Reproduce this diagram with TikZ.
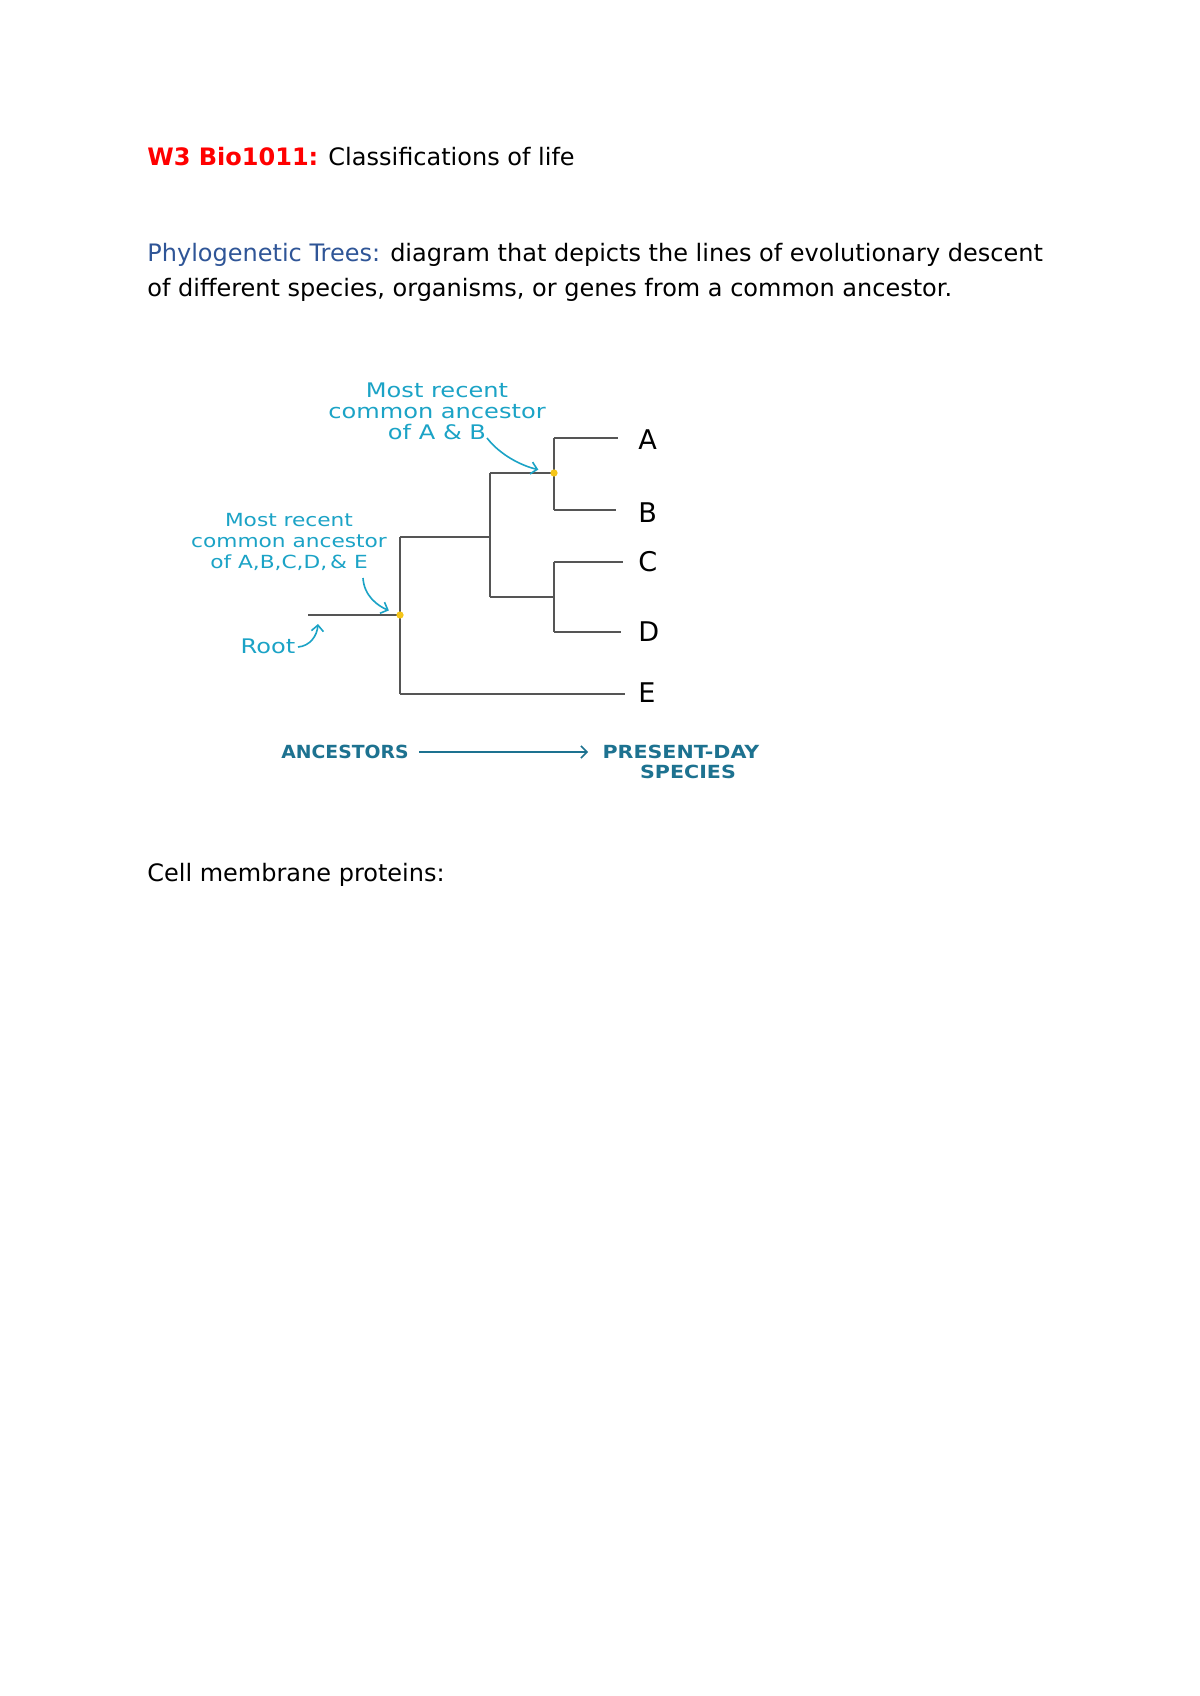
\documentclass[tikz,border=0pt]{standalone}
\usepackage{fontspec}
\setmainfont{DejaVu Sans}
\newfontfamily\hand[FakeStretch=1.2]{DejaVu Sans}
\newfontfamily\handcaps[FakeStretch=1.14]{DejaVu Sans}
\newfontfamily\handcapsn[FakeStretch=1.04]{DejaVu Sans}
\usetikzlibrary{arrows.meta}
\definecolor{titlered}{HTML}{FF0000}
\definecolor{headblue}{HTML}{2F5597}
\definecolor{handcyan}{HTML}{1BA3C6}
\definecolor{handteal}{HTML}{1D7290}
\definecolor{treegray}{HTML}{555555}
\definecolor{dotyellow}{HTML}{F5C518}
\begin{document}
\begin{tikzpicture}[x=0.0175cm,y=-0.0175cm,
  body/.style={anchor=base west,inner sep=0pt,font=\fontsize{11.95}{14}\selectfont},
  branch/.style={draw=treegray,line width=1.1pt},
  leaf/.style={anchor=west,inner sep=0pt,font=\fontsize{13.5}{16}\selectfont},
  note/.style={inner sep=0pt,text=handcyan,font=\hand\fontsize{10}{10.5}\selectfont,align=center},
  pointer/.style={draw=handcyan,line width=0.8pt,-{Straight Barb[length=3pt,width=6pt]}},
  axislabel/.style={inner sep=0pt,text=handteal,font=\handcaps\bfseries\fontsize{9}{10}\selectfont},
  axisarrow/.style={draw=handteal,line width=0.8pt,-{Straight Barb[length=3pt,width=6pt]}},
  dot/.style={circle,fill=dotyellow,inner sep=0pt,minimum size=3.6pt}]
\useasboundingbox (0,0) rectangle (1200,1696);
\fill[white] (0,0) rectangle (1200,1696);

% text
\node[body] (title) at (147,166) {\textcolor{titlered}{\bfseries W3 Bio1011:} Classifications of life};
\node[body] (def1) at (147,262) {\textcolor{headblue}{Phylogenetic Trees:} diagram that depicts the lines of evolutionary descent};
\node[body] (def2) at (147,297) {of different species, organisms, or genes from a common ancestor.};
\node[body] (cell) at (147,881) {Cell membrane proteins:};

% tree coordinates
\coordinate (rootL) at (308,615);
\coordinate (root) at (400,615);
\coordinate (rtop) at (400,537);
\coordinate (rbot) at (400,694);
\coordinate (n1) at (490,537);
\coordinate (n1top) at (490,473);
\coordinate (n1bot) at (490,597);
\coordinate (ab) at (554,473);
\coordinate (abtop) at (554,438);
\coordinate (abbot) at (554,510);
\coordinate (cd) at (554,597);
\coordinate (cdtop) at (554,562);
\coordinate (cdbot) at (554,632);
\coordinate (tA) at (618,438);
\coordinate (tB) at (616,510);
\coordinate (tC) at (623,562);
\coordinate (tD) at (621,632);
\coordinate (tE) at (625,694);

\draw[branch] (rootL) -- (root);
\draw[branch] (rtop) -- (rbot);
\draw[branch] (rtop) -- (n1);
\draw[branch] (rbot) -- (tE);
\draw[branch] (n1top) -- (n1bot);
\draw[branch] (n1top) -- (ab);
\draw[branch] (n1bot) -- (cd);
\draw[branch] (abtop) -- (abbot);
\draw[branch] (abtop) -- (tA);
\draw[branch] (abbot) -- (tB);
\draw[branch] (cdtop) -- (cdbot);
\draw[branch] (cdtop) -- (tC);
\draw[branch] (cdbot) -- (tD);

\node[dot] (dotAB) at (ab) {};
\node[dot] (dotR) at (root) {};

\node[leaf] (A) at (638,440) {A};
\node[leaf] (B) at (638,513) {B};
\node[leaf] (C) at (638,562) {C};
\node[leaf] (D) at (638,632) {D};
\node[leaf] (E) at (638,693) {E};

% notes
\node[note] (noteAB) at (437,411) {Most recent\\common ancestor\\of A \& B};
\node[note,font=\hand\fontsize{9}{10.5}\selectfont] (noteR) at (289,542) {Most recent\\common ancestor\\of A,B,C,D,\,\& E};
\node[note] (rootlbl) at (268,646) {Root};

\coordinate (tailAB) at (487,438);
\coordinate (tailR) at (363,578);
\coordinate (tailRoot) at (298,647);
\draw[pointer,shorten >=6pt] (tailAB) .. controls (500,455) and (522,466) .. (dotAB);
\draw[pointer,shorten >=4pt] (tailR) .. controls (364,596) and (378,606) .. (dotR);
\draw[pointer] (tailRoot) .. controls (310,646) and (317,636) .. (318,624);

% axis
\node[axislabel,font=\handcapsn\bfseries\fontsize{9}{10}\selectfont] (anc) at (345,752) {ANCESTORS};
\node[axislabel] (pres) at (681,752) {PRESENT-DAY};
\node[axislabel] (spec) at (688,772) {SPECIES};
\draw[axisarrow,shorten <=5pt,shorten >=7pt] (anc.east) -- (pres.west);
\end{tikzpicture}
\end{document}
